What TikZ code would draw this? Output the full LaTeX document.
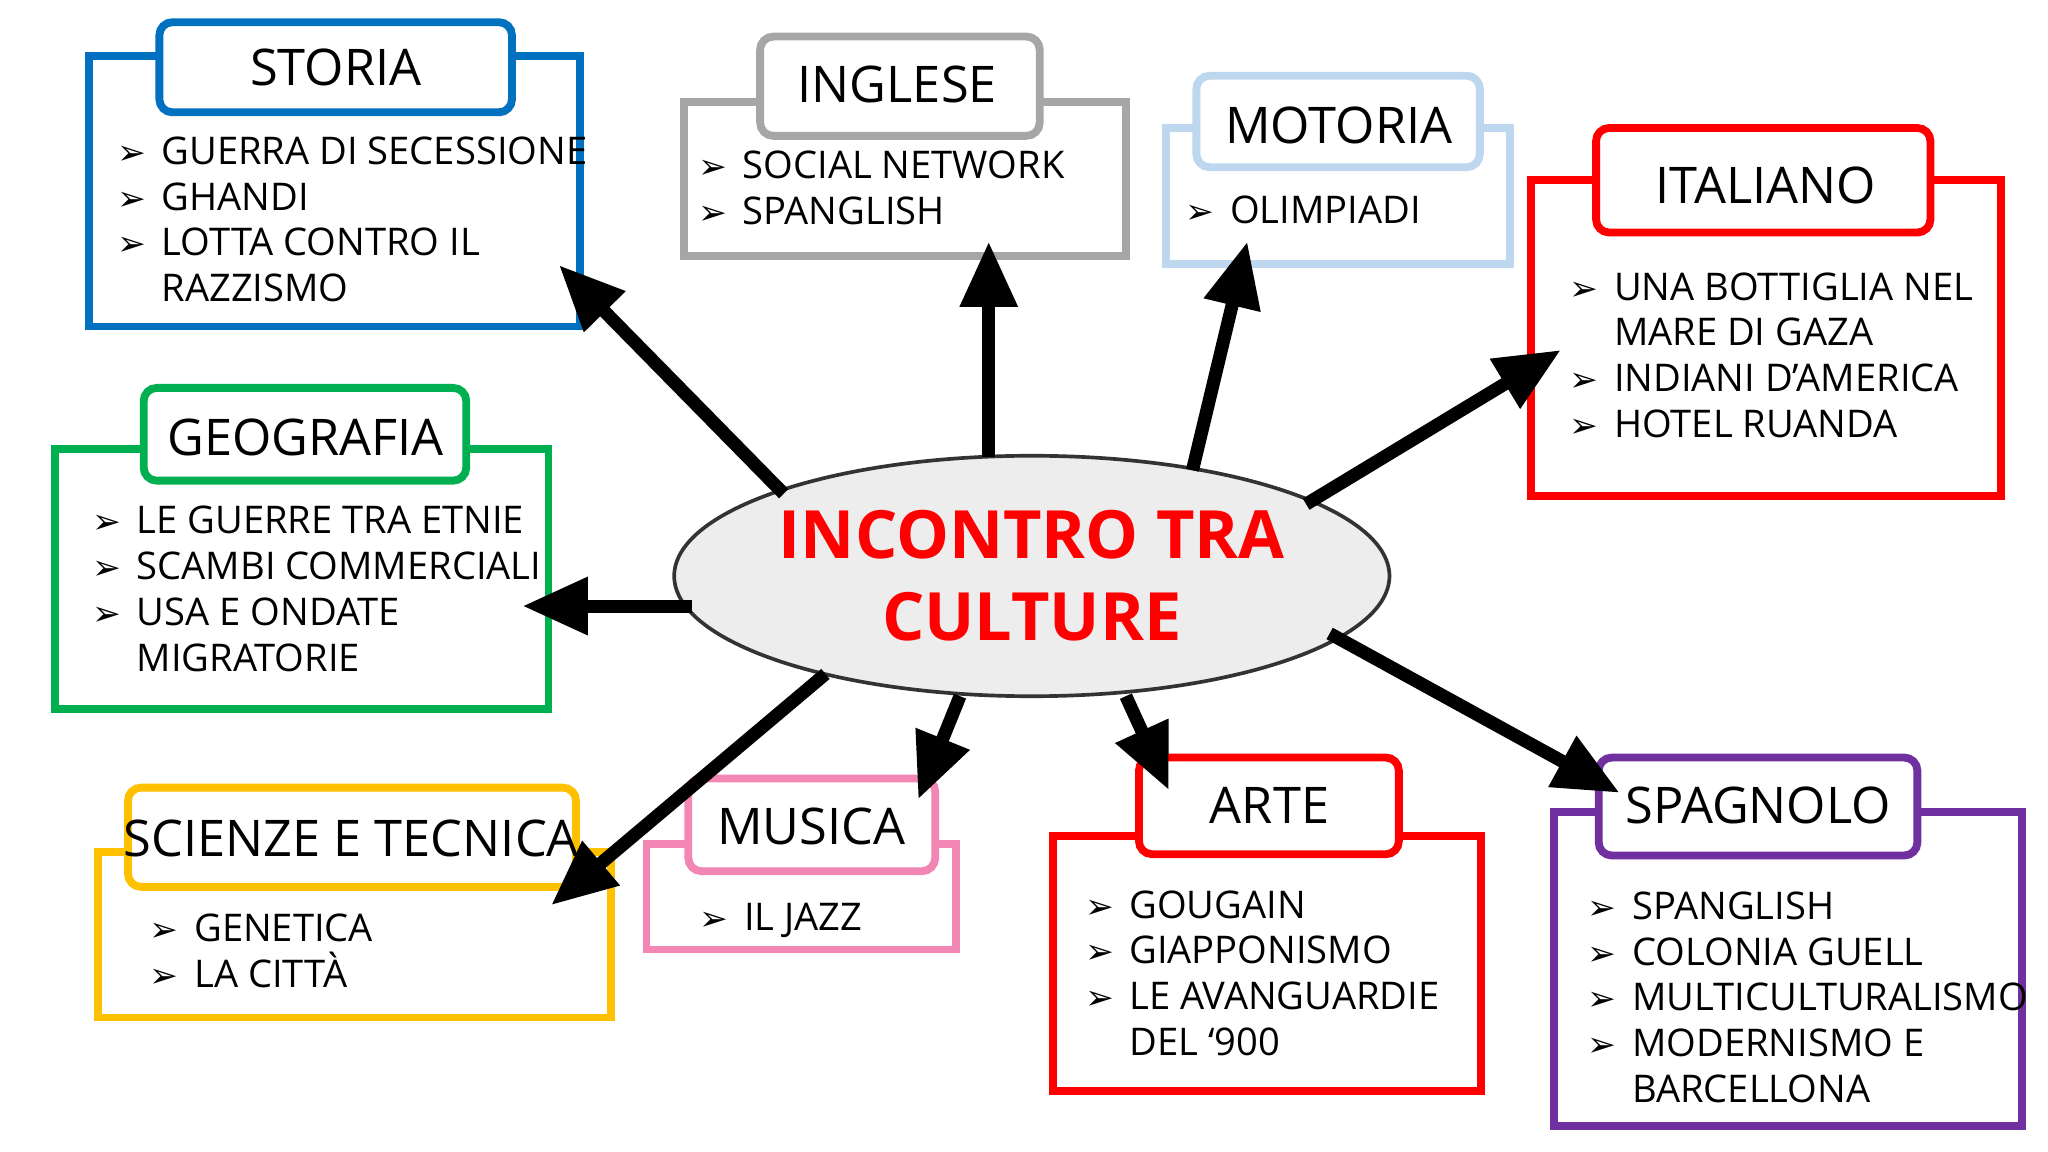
\documentclass[tikz,border=0pt]{standalone}
\usepackage{fontspec}
\setmainfont{Open Sans}
\newfontfamily\sym{DejaVu Sans}
\usetikzlibrary{arrows.meta,shapes.geometric}
\definecolor{cblue}{HTML}{0070C0}
\definecolor{cgray}{HTML}{A6A6A6}
\definecolor{clblue}{HTML}{BDD7EE}
\definecolor{cred}{HTML}{FF0000}
\definecolor{cgreen}{HTML}{00B050}
\definecolor{cyellow}{HTML}{FFC000}
\definecolor{cpink}{HTML}{F286B4}
\definecolor{cpurple}{HTML}{7030A0}
\newcommand{\itm}[1]{\makebox[0.34cm][l]{\sym\fontsize{7.5}{10}\selectfont ➢}#1}
\newcommand{\cnt}[1]{\hspace*{0.34cm}#1}
\tikzset{
  box/.style={draw=#1, line width=0.06cm, fill=white},
  tab/.style={draw=#1, line width=0.06cm, fill=white, rounded corners=0.1cm},
  ttl/.style={font=\fontsize{11}{13}\selectfont},
  lst/.style={anchor=north west, inner sep=0pt, align=left, font=\fontsize{8.3}{9.96}\selectfont},
  arr/.style={draw=black, line width=0.1cm, -{Triangle[length=0.5cm,width=0.42cm]}}
}
\begin{document}
\begin{tikzpicture}[x=0.01cm, y=-0.01cm]
    \useasboundingbox (0,0) rectangle (1568,882);

    % STORIA
    \draw[box=cblue] (68,43) rectangle (444,250);
    \draw[tab=cblue] (122,17) rectangle (392,86);
    \node[ttl] (sto) at (257,52) {STORIA};
    \node[lst] (stoL) at (89,104) {\itm{GUERRA DI SECESSIONE}\\\itm{GHANDI}\\\itm{LOTTA CONTRO IL}\\\cnt{RAZZISMO}};

    % INGLESE
    \draw[box=cgray] (524,78) rectangle (862,196);
    \draw[tab=cgray] (582,28) rectangle (796,104);
    \node[ttl] (ing) at (687,65) {INGLESE};
    \node[lst] (ingL) at (534,115) {\itm{SOCIAL NETWORK}\\\itm{SPANGLISH}};

    % MOTORIA
    \draw[box=clblue] (893,98) rectangle (1156,202);
    \draw[tab=clblue] (916,58) rectangle (1133,128);
    \node[ttl] (mot) at (1025,96) {MOTORIA};
    \node[lst] (motL) at (907,149) {\itm{OLIMPIADI}};

    % ITALIANO
    \draw[box=cred] (1172,138) rectangle (1532,380);
    \draw[tab=cred] (1222,98) rectangle (1478,178);
    \node[ttl] (ita) at (1352,142) {ITALIANO};
    \node[lst] (itaL) at (1201,208) {\itm{UNA BOTTIGLIA NEL}\\\cnt{MARE DI GAZA}\\\itm{INDIANI D’AMERICA}\\\itm{HOTEL RUANDA}};

    % GEOGRAFIA
    \draw[box=cgreen] (42,344) rectangle (420,543);
    \draw[tab=cgreen] (110,297) rectangle (357,368);
    \node[ttl] (geo) at (234,335) {GEOGRAFIA};
    \node[lst] (geoL) at (70,387) {\itm{LE GUERRE TRA ETNIE}\\\itm{SCAMBI COMMERCIALI}\\\itm{USA E ONDATE}\\\cnt{MIGRATORIE}};

    % SCIENZE E TECNICA
    \draw[box=cyellow] (75,652) rectangle (468,779);
    \draw[tab=cyellow] (98,603) rectangle (441,679);
    \node[ttl] (sci) at (269,642) {SCIENZE E TECNICA};
    \node[lst] (sciL) at (114,699) {\itm{GENETICA}\\\itm{LA CITTÀ}};

    % MUSICA
    \draw[box=cpink] (495,646) rectangle (732,727);
    \draw[tab=cpink] (527,596) rectangle (716,667);
    \node[ttl] (mus) at (621,633) {MUSICA};
    \node[lst] (musL) at (535,691) {\itm{IL JAZZ}};

    % ARTE
    \draw[box=cred] (806,640) rectangle (1134,835);
    \draw[tab=cred] (872,580) rectangle (1071,654);
    \node[ttl] (art) at (972,617) {ARTE};
    \node[lst] (artL) at (830,681) {\itm{GOUGAIN}\\\itm{GIAPPONISMO}\\\itm{LE AVANGUARDIE}\\\cnt{DEL ‘900}};

    % SPAGNOLO
    \draw[box=cpurple] (1190,622) rectangle (1548,862);
    \draw[tab=cpurple] (1224,580) rectangle (1468,655);
    \node[ttl] (spa) at (1346,617) {SPAGNOLO};
    \node[lst] (spaL) at (1215,682) {\itm{SPANGLISH}\\\itm{COLONIA GUELL}\\\itm{MULTICULTURALISMO}\\\itm{MODERNISMO E}\\\cnt{BARCELLONA}};

    % centre and arrows
    \node[draw=black!80, thick, fill=black!7, ellipse, inner sep=0pt, minimum width=5.26cm, minimum height=1.84cm, align=center,
          text=cred, font=\fontsize{14.5}{17.8}\bfseries\selectfont] (cen) at (790,441) {INCONTRO TRA\\CULTURE};
    \foreach \s/\t/\x/\y in {a/Sto/428/203, b/Ing/757/185, c/Mot/955/185, d/Ita/1195/268, e/Geo/400/464,
                             f/Sci/422/693, g/Mus/703/612, h/Art/895/605, i/Spa/1240/607}
        \coordinate (t\t) at (\x,\y);
    \coordinate (sSto) at (600,378);
    \coordinate (sIng) at (757,350);
    \coordinate (sMot) at (913,360);
    \coordinate (sIta) at (1000,386);
    \coordinate (sGeo) at (530,464);
    \coordinate (sSci) at (632,516);
    \coordinate (sMus) at (735,533);
    \coordinate (sArt) at (862,533);
    \coordinate (sSpa) at (1018,485);
    \foreach \t in {Sto,Ing,Mot,Ita,Geo,Sci,Mus,Art,Spa}
        \draw[arr] (s\t) -- (t\t);
\end{tikzpicture}
\end{document}
